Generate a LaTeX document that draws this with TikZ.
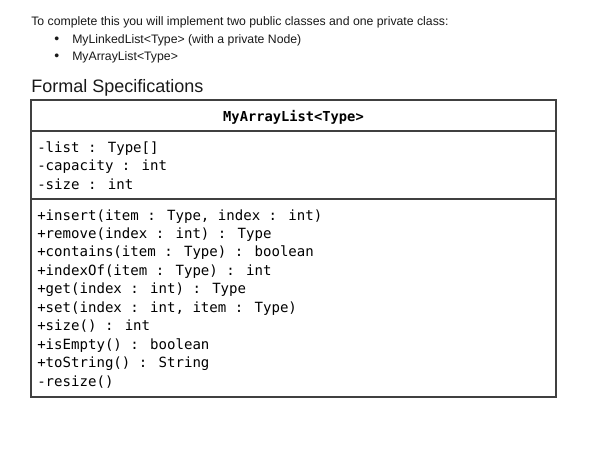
\documentclass[tikz,border=0pt]{standalone}
\usepackage{fontspec}
\setmainfont{Liberation Sans}
\newfontfamily\codefont{DejaVu Sans Mono}
\begin{document}
\begin{tikzpicture}[x=0.75pt,y=-0.75pt,
  txt/.style={anchor=base west,inner sep=0pt,text=black!90,font=\fontsize{9.2}{10}\selectfont},
  code/.style={anchor=base west,inner sep=0pt,text=black,font=\codefont\fontsize{10.55}{12}\selectfont},
  frame/.style={draw=black!75,line width=0.9pt}]
\useasboundingbox[fill=white] (0,0) rectangle (609,461);
\node[txt] (intro) at (31,25) {To complete this you will implement two public classes and one private class:};
\node[txt,font=\fontsize{10.5}{12}\selectfont] (b1) at (54,43) {•};
\node[txt] (l1) at (72,43) {MyLinkedList<Type> (with a private Node)};
\node[txt,font=\fontsize{10.5}{12}\selectfont] (b2) at (54,60) {•};
\node[txt] (l2) at (72,60) {MyArrayList<Type>};
\node[txt,font=\fontsize{13.5}{16}\selectfont] (spec) at (31,92) {Formal Specifications};
\draw[frame] (31,100) rectangle (556,397);
\draw[frame] (31,131) -- (556,131);
\draw[frame] (31,199) -- (556,199);
\node[code,anchor=base,font=\codefont\bfseries\fontsize{10.3}{12}\selectfont] (title) at (293.5,121) {MyArrayList<Type>};
\foreach \t [count=\i] in {-list : Type[],-capacity : int,-size : int}
  \node[code] (a\i) at (37,{152+18.5*(\i-1)}) {\t};
\foreach \t [count=\i] in {{+insert(item : Type, index : int)},+remove(index : int) : Type,+contains(item : Type) : boolean,+indexOf(item : Type) : int,+get(index : int) : Type,{+set(index : int, item : Type)},+size() : int,+isEmpty() : boolean,+toString() : String,-resize()}
  \node[code] (m\i) at (37,{220+18.45*(\i-1)}) {\t};
\end{tikzpicture}
\end{document}
